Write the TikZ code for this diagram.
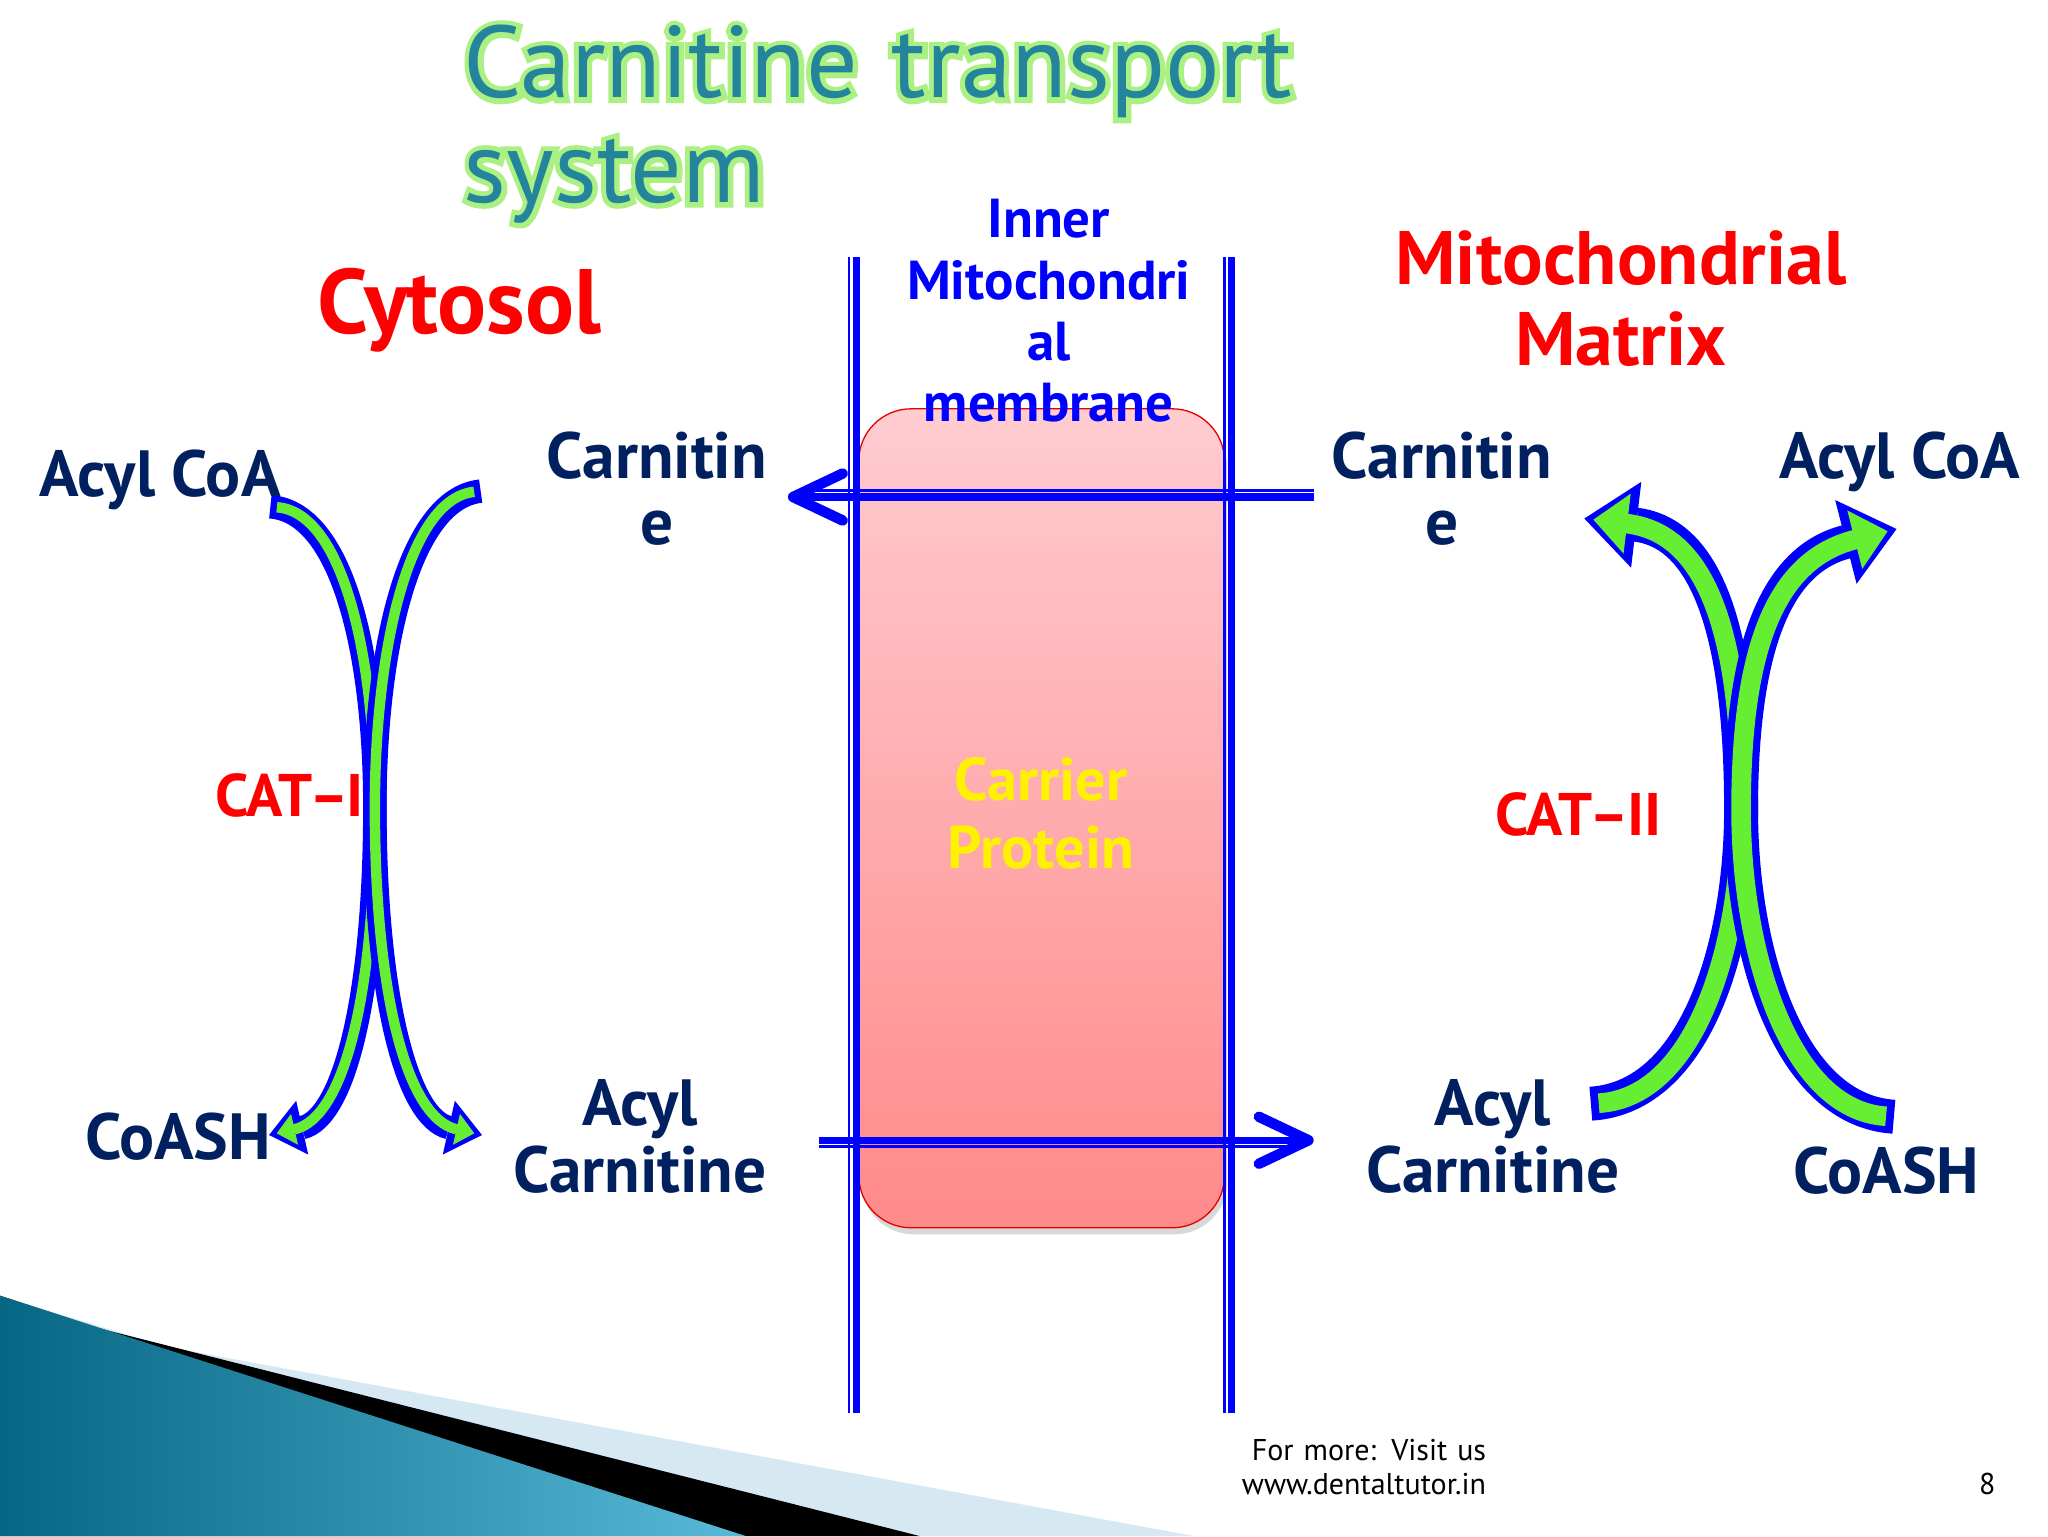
\documentclass[tikz,border=0pt]{standalone}
\usepackage{fontspec}
\setmainfont{PT Sans}
\newfontfamily\glowfont[FakeBold=10]{PT Sans}
\usetikzlibrary{arrows.meta,calc,shadows}
\definecolor{navy}{RGB}{0,32,96}
\definecolor{ttlteal}{RGB}{36,132,156}
\definecolor{ttlglow}{RGB}{170,240,130}
\definecolor{memblue}{RGB}{0,0,255}
\definecolor{leaf}{RGB}{102,238,51}
\definecolor{pinktop}{RGB}{255,204,208}
\definecolor{pinkbot}{RGB}{255,138,138}
\definecolor{wedgedark}{RGB}{6,102,132}
\definecolor{wedgelight}{RGB}{88,186,216}
\definecolor{wedgepale}{RGB}{214,232,242}
\tikzset{
  lbl/.style={font=\fontsize{50}{51}\selectfont\bfseries, text=navy, align=center, inner sep=0pt},
  zone/.style={font=\fontsize{70}{62}\selectfont\bfseries, text=red, align=center, inner sep=0pt},
  cat/.style={font=\fontsize{46}{50}\selectfont\bfseries, text=red, inner sep=0pt},
  ttlfont/.style={font=\fontsize{78}{80}\selectfont, text width=760pt, align=left, inner sep=0pt},
  thickln/.style={memblue, line width=5.6pt},
  thinln/.style={memblue, line width=1.8pt},
  barb/.style={-{Straight Barb[length=38pt,width=36pt,line width=8pt,round]}},
  bandI/.style={memblue, line width=18pt, -{Triangle[length=26pt,width=42pt,line width=1pt]}},
  fillI/.style={leaf, line width=8pt, shorten <=5pt, shorten >=6pt, -{Triangle[length=14pt,width=24pt,line width=1pt]}},
  bandII/.style={memblue, line width=26pt, -{Triangle[length=40pt,width=66pt,line width=1pt]}},
  fillII/.style={leaf, line width=15pt, shorten <=6pt, shorten >=7pt, -{Triangle[length=26pt,width=46pt,line width=1pt]}}
}

\begin{document}
\begin{tikzpicture}[x=1pt,y=-1pt]
  \useasboundingbox (0,0) rectangle (1568,1176);
  \fill[white] (0,0) rectangle (1568,1176);

  % corner swoosh
  \fill[wedgepale] (0,992) -- (127,1031) -- (914,1176) -- (0,1176) -- cycle;
  \fill[black] (0,992) -- (76,1017) -- (704,1176) -- (0,1176) -- cycle;
  \shade[left color=wedgedark, right color=wedgelight] (0,992) -- (571,1176) -- (0,1176) -- cycle;

  % title with glow
  \node[ttlfont, font=\fontsize{78}{80}\glowfont, anchor=base west, text=ttlglow] (glow) at (355,75) {Carnitine transport\\system};
  \node[ttlfont, anchor=base west, text=ttlteal] (title) at (355,75) {Carnitine transport\\system};

  % carrier protein
  \node[draw=red!90!black, line width=1pt, rounded corners=40pt, top color=pinktop, bottom color=pinkbot,
        minimum width=280pt, minimum height=627pt, inner sep=0pt,
        drop shadow={shadow xshift=2pt, shadow yshift=-5pt, opacity=0.3}] (carrier) at (797.5,626.5) {};

  % membrane (thin + thick line each side)
  \draw[thinln] (650,197) -- (650,1082);
  \draw[thickln] (655.5,197) -- (655.5,1082);
  \draw[thinln] (937.5,197) -- (937.5,1082);
  \draw[thickln] (943,197) -- (943,1082);

  \node[font=\fontsize{42}{47}\selectfont\bfseries, text=memblue, text width=300pt, align=center, inner sep=0pt, anchor=base]
    (memlbl) at (803,182) {Inner\\Mitochondri\\al\\membrane};
  \node[font=\fontsize{46}{52}\selectfont\bfseries, text=yellow, text width=260pt, align=center, inner sep=0pt, anchor=base]
    (cptxt) at (797,613) {Carrier\\Protein};

  % zones
  \node[zone, anchor=base west] (cytosol) at (243,255) {Cytosol};
  \node[zone, font=\fontsize{58}{62}\selectfont\bfseries, text width=420pt, anchor=base] (matrix) at (1241,218) {Mitochondrial\\Matrix};

  % curved arrows, CAT-I
  \coordinate (iA0) at (207,388);
  \coordinate (iA1) at (206,869);
  \coordinate (iB0) at (368,376);
  \coordinate (iB1) at (369,869);
  \coordinate (iM) at (287,618);
  \foreach \lay in {bandI,fillI}
    \draw[\lay] (iA0) .. controls (262,392) and (287,500) .. (iM) .. controls (287,760) and (264,856) .. (iA1);
  \foreach \lay in {bandI,fillI}
    \draw[\lay] (iB0) .. controls (312,382) and (287,500) .. (iM) .. controls (287,760) and (311,856) .. (iB1);

  % curved arrows, CAT-II
  \coordinate (iiC0) at (1218,845);
  \coordinate (iiC1) at (1213,397);
  \coordinate (iiD0) at (1450,855);
  \coordinate (iiD1) at (1452,405);
  \coordinate (iiM) at (1333,620);
  \foreach \lay in {bandII,fillII}
    \draw[\lay] (iiC0) .. controls (1300,840) and (1333,720) .. (iiM) .. controls (1333,480) and (1305,408) .. (iiC1);
  \foreach \lay in {bandII,fillII}
    \draw[\lay] (iiD0) .. controls (1370,850) and (1333,730) .. (iiM) .. controls (1333,490) and (1362,428) .. (iiD1);

  % metabolites
  \node[lbl, anchor=base west] (acylL) at (30,380) {Acyl CoA};
  \node[lbl, anchor=base west] (coashL) at (65,888) {CoASH};
  \node[lbl, text width=170pt, anchor=base] (carnL) at (503,366) {Carnitin\\e};
  \node[lbl, text width=200pt, anchor=base] (acL) at (490,862) {Acyl\\Carnitine};
  \node[lbl, text width=170pt, anchor=base] (carnR) at (1104,366) {Carnitin\\e};
  \node[lbl, text width=200pt, anchor=base] (acR) at (1143,862) {Acyl\\Carnitine};
  \node[lbl, anchor=base west] (acylR) at (1362,366) {Acyl CoA};
  \node[lbl, anchor=base west] (coashR) at (1373,914) {CoASH};
  \node[cat, anchor=base west] (catI) at (165,625) {CAT{\kern-2pt}--{\kern-2pt}I};
  \node[cat, anchor=base west] (catII) at (1145,640) {CAT{\kern-2pt}--{\kern-2pt}II};

  % transport through the carrier
  \draw[thickln, barb] ([shift={(-13pt,-14.5pt)}]carnR.base west) -- ([shift={(15pt,-14.5pt)}]carnL.base east);
  \draw[thinln] ([shift={(-13pt,-9.6pt)}]carnR.base west) -- ([shift={(30pt,-9.6pt)}]carnL.base east);
  \draw[thickln, barb] ([shift={(37pt,-11pt)}]acL.base east) -- ([shift={(-37pt,-11pt)}]acR.base west);
  \draw[thinln] ([shift={(37pt,-15.7pt)}]acL.base east) -- ([shift={(-58pt,-15.7pt)}]acR.base west);

  % footer
  \node[font=\fontsize{23}{26}\selectfont, text width=260pt, align=right, inner sep=0pt, anchor=base east]
    (foot) at (1138,1118) {For more: Visit us\\www.dentaltutor.in};
  \node[font=\fontsize{23}{26}\selectfont, inner sep=0pt, anchor=base east] (pgnum) at (1528,1144) {8};
\end{tikzpicture}
\end{document}
